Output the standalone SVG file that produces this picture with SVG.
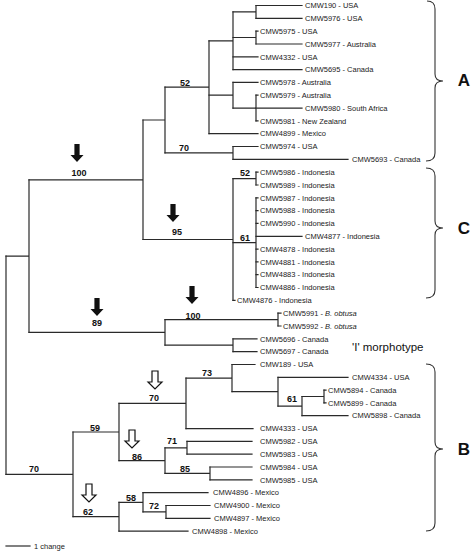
<svg xmlns="http://www.w3.org/2000/svg" xmlns:xlink="http://www.w3.org/1999/xlink" width="474" height="552" viewBox="0 0 474 552">
<style>
.br{stroke:#2a2a2a;stroke-width:1.2;fill:none;stroke-linecap:square}
.lf{font-family:"Liberation Sans",Arial,sans-serif;font-size:7.5px;fill:#1a1a1a}
.bs{font-family:"Liberation Sans",Arial,sans-serif;font-size:9px;font-weight:bold;fill:#111;text-anchor:middle}
.grp{font-family:"Liberation Sans",Arial,sans-serif;font-size:17px;font-weight:bold;fill:#111;text-anchor:middle}
.brace{stroke:#333;stroke-width:1.1;fill:none}
.it{font-style:italic}
</style>
<defs>
<path id="farrow" d="M-2.6,0 H2.6 V11 H6.5 L0,18 L-6.5,11 H-2.6 Z" fill="#111"/>
<path id="oarrow" d="M-3,0 H3 V11 H7 L0,18 L-7,11 H-3 Z" fill="#fff" stroke="#111" stroke-width="1.2" stroke-linejoin="miter"/>
</defs>
<rect width="474" height="552" fill="#fff"/>
<g id="connectors" class="br">
<path d="M256,5.5V18.3 M233,11.9H256"/>
<path d="M256,31.1V44 M233,37.5H256"/>
<path d="M233,11.9V69.6 M209,40.8H233"/>
<path d="M256,95.2V120.9 M233,108.1H256"/>
<path d="M233,82.4V108.1 M209,95.2H233"/>
<path d="M209,40.8V133.7 M165,87.2H209"/>
<path d="M233,146.5V159.3 M165,152.9H233"/>
<path d="M165,87.2V152.9 M143,120H165"/>
<path d="M256,172.2V185 M233,178.6H256"/>
<path d="M256,197.8V287.5 M233,242.7H256"/>
<path d="M233,178.6V300.4 M143,239.5H233"/>
<path d="M143,120V239.5 M29,179.8H143"/>
<path d="M278,313.2V326 M165,319.6H278"/>
<path d="M233,338.8V351.6 M165,345.2H233"/>
<path d="M165,319.6V345.2 M29,332.4H165"/>
<path d="M29,179.8V332.4 M6,256.1H29"/>
<path d="M324,390.1V402.9 M302,396.5H324"/>
<path d="M302,396.5V415.7 M278,406.1H302"/>
<path d="M278,377.3V406.1 M232,391.7H278"/>
<path d="M232,364.5V391.7 M186,378.1H232"/>
<path d="M186,378.1V428.6 M119,403.3H186"/>
<path d="M187,441.4V454.2 M165,447.8H187"/>
<path d="M210,467V479.8 M165,473.4H210"/>
<path d="M165,447.8V473.4 M119,460.6H165"/>
<path d="M119,403.3V460.6 M73,432H119"/>
<path d="M166,505.5V518.3 M143,511.9H166"/>
<path d="M143,492.7V511.9 M119,502.3H143"/>
<path d="M119,502.3V531.1 M73,516.7H119"/>
<path d="M73,432V516.7 M6,474.3H73"/>
<path d="M6,256.1V474.3"/>
<!-- leaf branches -->
<path d="M256,5.5H302 M256,18.3H302 M256,31.1H258 M256,44H302 M233,56.8H258 M233,69.6H302 M233,82.4H258 M256,95.2H258 M256,108.1H302 M256,120.9H258 M209,133.7H258 M233,146.5H258 M233,159.3H348"/>
<path d="M256,172.2H258 M256,185H258 M256,197.8H258 M256,210.6H258 M256,223.4H258 M256,236.3H302 M256,249.1H258 M256,261.9H258 M256,274.7H258 M256,287.5H258 M233,300.4H235"/>
<path d="M278,313.2H281 M278,326H281 M233,338.8H257 M233,351.6H257"/>
<path d="M232,364.5H255 M278,377.3H348 M324,390.1H326 M324,402.9H326 M302,415.7H348 M186,428.6H253 M187,441.4H252 M187,454.2H252 M210,467H252 M210,479.8H252 M143,492.7H208 M166,505.5H210 M166,518.3H210 M119,531.1H188"/>
</g>
<g id="leaves" class="lf">
<g id="CMW190"><text x="305" y="8.2">CMW190 - USA</text></g>
<g id="CMW5976"><text x="305" y="21">CMW5976 - USA</text></g>
<g id="CMW5975"><text x="260" y="33.8">CMW5975 - USA</text></g>
<g id="CMW5977"><text x="305" y="46.7">CMW5977 - Australia</text></g>
<g id="CMW4332"><text x="260" y="59.5">CMW4332 - USA</text></g>
<g id="CMW5695"><text x="305" y="72.3">CMW5695 - Canada</text></g>
<g id="CMW5978"><text x="260" y="85.1">CMW5978 - Australia</text></g>
<g id="CMW5979"><text x="260" y="97.9">CMW5979 - Australia</text></g>
<g id="CMW5980"><text x="305" y="110.8">CMW5980 - South Africa</text></g>
<g id="CMW5981"><text x="260" y="123.6">CMW5981 - New Zealand</text></g>
<g id="CMW4899"><text x="260" y="136.4">CMW4899 - Mexico</text></g>
<g id="CMW5974"><text x="260" y="149.2">CMW5974 - USA</text></g>
<g id="CMW5693"><text x="352" y="162">CMW5693 - Canada</text></g>
<g id="CMW5986"><text x="260" y="174.9">CMW5986 - Indonesia</text></g>
<g id="CMW5989"><text x="260" y="187.7">CMW5989 - Indonesia</text></g>
<g id="CMW5987"><text x="260" y="200.5">CMW5987 - Indonesia</text></g>
<g id="CMW5988"><text x="260" y="213.3">CMW5988 - Indonesia</text></g>
<g id="CMW5990"><text x="260" y="226.1">CMW5990 - Indonesia</text></g>
<g id="CMW4877"><text x="305" y="239">CMW4877 - Indonesia</text></g>
<g id="CMW4878"><text x="260" y="251.8">CMW4878 - Indonesia</text></g>
<g id="CMW4881"><text x="260" y="264.6">CMW4881 - Indonesia</text></g>
<g id="CMW4883"><text x="260" y="277.4">CMW4883 - Indonesia</text></g>
<g id="CMW4886"><text x="260" y="290.2">CMW4886 - Indonesia</text></g>
<g id="CMW4876"><text x="237" y="303.1">CMW4876 - Indonesia</text></g>
<g id="CMW5991"><text x="283" y="315.9">CMW5991 - <tspan class="it">B. obtusa</tspan></text></g>
<g id="CMW5992"><text x="283" y="328.7">CMW5992 - <tspan class="it">B. obtusa</tspan></text></g>
<g id="CMW5696"><text x="260" y="341.5">CMW5696 - Canada</text></g>
<g id="CMW5697"><text x="260" y="354.3">CMW5697 - Canada</text></g>
<g id="CMW189"><text x="260" y="367.2">CMW189 - USA</text></g>
<g id="CMW4334"><text x="352" y="380">CMW4334 - USA</text></g>
<g id="CMW5894"><text x="328" y="392.8">CMW5894 - Canada</text></g>
<g id="CMW5899"><text x="328" y="405.6">CMW5899 - Canada</text></g>
<g id="CMW5898"><text x="352" y="418.4">CMW5898 - Canada</text></g>
<g id="CMW4333"><text x="260" y="431.3">CMW4333 - USA</text></g>
<g id="CMW5982"><text x="260" y="444.1">CMW5982 - USA</text></g>
<g id="CMW5983"><text x="260" y="456.9">CMW5983 - USA</text></g>
<g id="CMW5984"><text x="260" y="469.7">CMW5984 - USA</text></g>
<g id="CMW5985"><text x="260" y="482.5">CMW5985 - USA</text></g>
<g id="CMW4896"><text x="213" y="495.4">CMW4896 - Mexico</text></g>
<g id="CMW4900"><text x="214" y="508.2">CMW4900 - Mexico</text></g>
<g id="CMW4897"><text x="214" y="521">CMW4897 - Mexico</text></g>
<g id="CMW4898"><text x="192" y="533.8">CMW4898 - Mexico</text></g>
</g>
<g id="support" class="bs">
<text x="185" y="86">52</text>
<text x="184" y="150.5">70</text>
<text x="79" y="176">100</text>
<text x="177" y="235">95</text>
<text x="245" y="176">52</text>
<text x="245" y="240.5">61</text>
<text x="193" y="318.5">100</text>
<text x="97" y="326">89</text>
<text x="207" y="376">73</text>
<text x="292" y="402">61</text>
<text x="154" y="401">70</text>
<text x="95" y="430.5">59</text>
<text x="137" y="460">86</text>
<text x="172" y="443.5">71</text>
<text x="185" y="472">85</text>
<text x="34" y="472">70</text>
<text x="88" y="515">62</text>
<text x="131" y="500.5">58</text>
<text x="154" y="509">72</text>
</g>
<g id="arrows">
<use xlink:href="#farrow" x="77" y="144"/>
<use xlink:href="#farrow" x="173" y="204"/>
<use xlink:href="#farrow" x="192" y="286"/>
<use xlink:href="#farrow" x="97" y="298"/>
<use xlink:href="#oarrow" x="155" y="371"/>
<use xlink:href="#oarrow" x="132" y="430"/>
<use xlink:href="#oarrow" x="89" y="484"/>
</g>
<g id="groups">
<g id="groupA"><path class="brace" d="M427,1 Q435,1 435,9 L435,74 Q435,81 443,81 Q435,81 435,88 L435,153 Q435,161 426,161"/><text class="grp" x="464" y="86">A</text></g>
<g id="groupC"><path class="brace" d="M426,168 Q435,168 435,176 L435,221 Q435,228 443,228 Q435,228 435,235 L435,290 Q435,298 426,298"/><text class="grp" x="464" y="234">C</text></g>
<g id="groupB"><path class="brace" d="M426,364 Q435,364 435,372 L435,442 Q435,449 443,449 Q435,449 435,456 L435,523 Q435,531 426,531"/><text class="grp" x="464" y="455">B</text></g>
<g id="morphotype"><text x="352" y="351" font-family="Liberation Sans, Arial, sans-serif" font-size="11.5" fill="#111">'I' morphotype</text></g>
</g>
<g id="scale">
<path class="br" d="M6,546H30"/>
<text class="lf" x="34" y="548.7">1 change</text>
</g>
</svg>
